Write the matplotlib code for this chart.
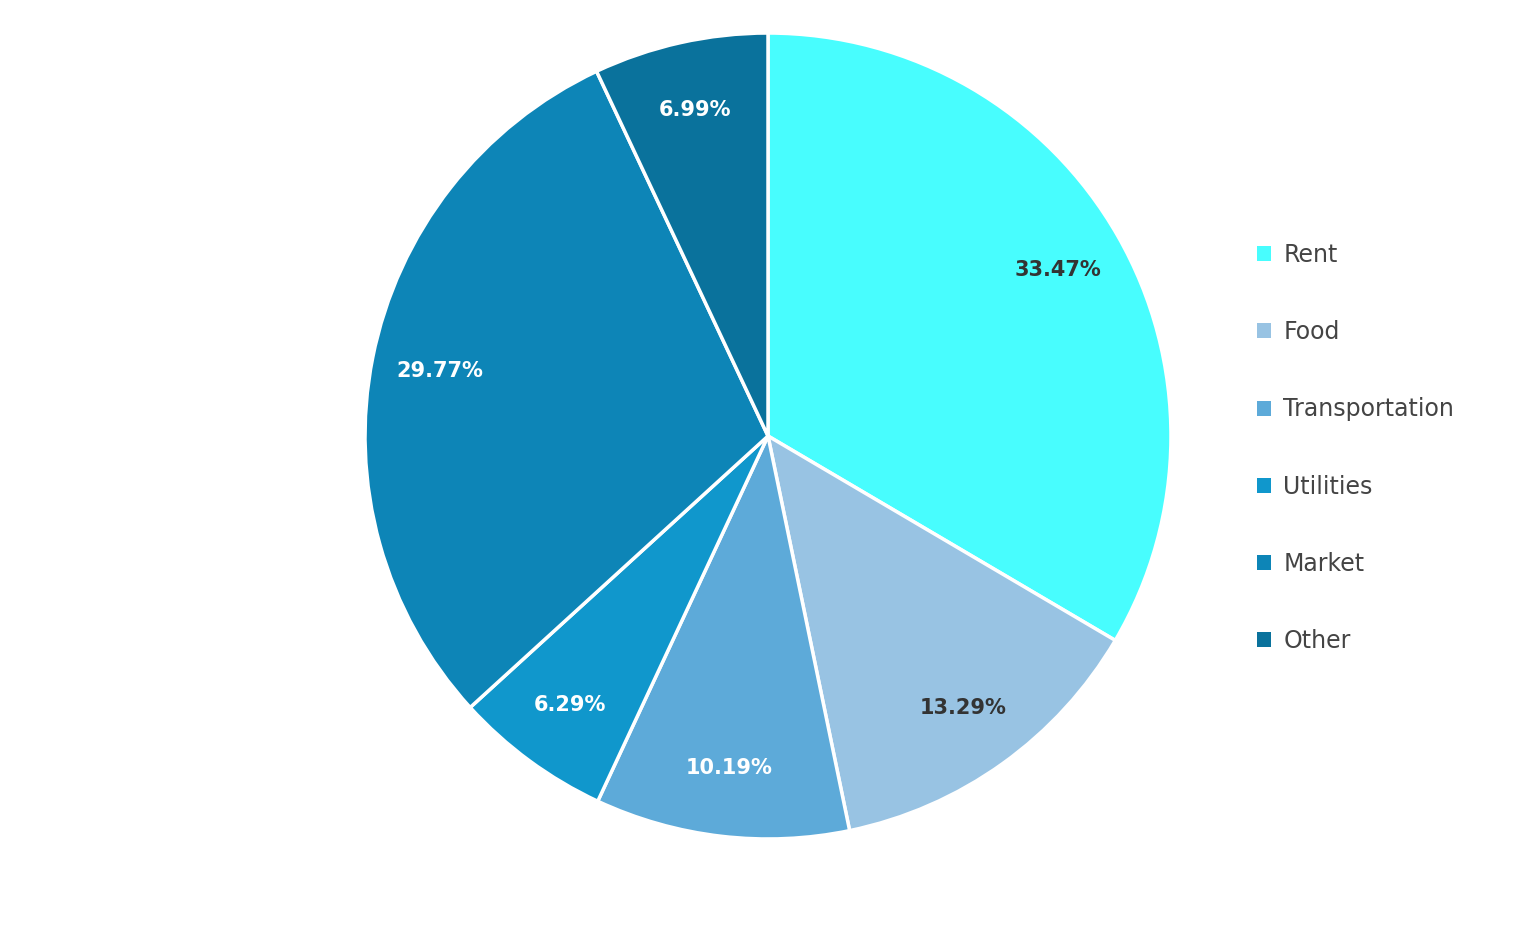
import matplotlib.pyplot as plt
from matplotlib.patches import Patch

categories = ["Rent", "Food", "Transportation", "Utilities", "Market", "Other"]
values = [33.5, 13.3, 10.2, 6.3, 29.8, 7.0]
colors = ["#48FDFE", "#98C3E3", "#5DAAD9", "#1097CC", "#0D85B7", "#0A729C"]
label_colors = ["#333333", "#333333", "white", "white", "white", "white"]

fig = plt.figure(figsize=(15.36, 9.41), dpi=100)
r_px = 407
ax = fig.add_axes([(768 - r_px) / 1536, (505 - r_px) / 941, 2 * r_px / 1536, 2 * r_px / 941])

wedges, texts, autotexts = ax.pie(
    values, colors=colors, startangle=90, counterclock=False,
    autopct="%.2f%%", pctdistance=0.83,
    wedgeprops=dict(edgecolor="white", linewidth=2.5),
    textprops=dict(fontsize=15, fontweight="bold"),
)
for t, c in zip(autotexts, label_colors):
    t.set_color(c)
ax.set_xlim(-1.01, 1.01)
ax.set_ylim(-1.01, 1.01)
ax.axis("off")

handles = [Patch(facecolor=c, edgecolor="none") for c in colors]
fig.legend(handles, categories, loc="center left",
           bbox_to_anchor=(1236 / 1536, (941 - 448) / 941),
           frameon=False, fontsize=17, labelcolor="#444444",
           handlelength=0.6, handleheight=0.6, handletextpad=0.5,
           labelspacing=2.25)

fig.savefig("out.png", dpi=100)
